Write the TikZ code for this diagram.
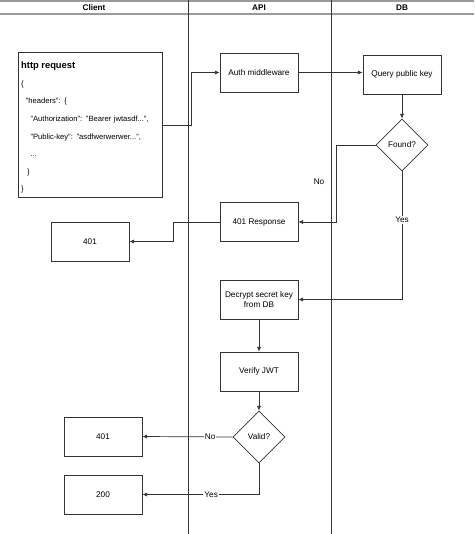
\documentclass[tikz,border=0pt]{standalone}
\usepackage{fontspec}
\setmainfont{Liberation Sans}
\usetikzlibrary{arrows.meta, shapes.geometric}

\begin{document}
\begin{tikzpicture}[x=0.03cm, y=-0.03cm,
    box/.style={draw=lineColour, line width=0.6pt, minimum width=2.34cm, minimum height=1.17cm, align=center, font=\fontsize{7}{8.5}\selectfont},
    reqbox/.style={draw=lineColour, line width=0.6pt, minimum width=4.32cm, minimum height=4.35cm, text width=4.15cm, inner sep=2pt, align=left, font=\fontsize{6.5}{15}\selectfont},
    decision/.style={diamond, draw=lineColour, line width=0.6pt, aspect=1, inner sep=0pt, minimum width=1.56cm, minimum height=1.56cm, font=\fontsize{7}{8.5}\selectfont},
    flow/.style={draw=lineColour, line width=0.6pt, -{Latex[length=4pt,width=3.5pt]}},
    edgelabel/.style={fill=white, inner sep=1pt, font=\fontsize{7}{8.5}\selectfont},
    header/.style={font=\bfseries\fontsize{7}{8.5}\selectfont}]
    % Define colours
    \definecolor{lineColour}{HTML}{333333}
    \definecolor{headerColour}{HTML}{9A9A9A}

    % Fix the page size
    \useasboundingbox (0,0) rectangle (474,534);

    % Draw swimlanes
    \draw[headerColour, line width=1.6pt] (0,1) -- (474,1);
    \draw[headerColour, line width=1.6pt] (0,14) -- (474,14);
    \draw[lineColour, line width=0.6pt] (188,0) -- (188,534);
    \draw[lineColour, line width=0.6pt] (331,0) -- (331,534);

    % Lane titles
    \node[header] (clientLane) at (94,8) {Client};
    \node[header] (apiLane) at (259,8) {API};
    \node[header] (dbLane) at (402,8) {DB};

    % Draw the request
    \node[reqbox, anchor=north west] (req) at (18,52) {%
        \rule{0pt}{10.5pt}{\bfseries\fontsize{8}{10}\selectfont http request}\\
        \{\\
        \hspace*{4pt}"headers": \{\\
        \hspace*{8pt}"Authorization": "Bearer jwtasdf...",\\
        \hspace*{8pt}"Public-key": "asdfwerwerwer...",\\
        \hspace*{8pt}...\\
        \hspace*{5pt}\}\\
        \}};

    % Draw the steps
    \node[box] (auth) at (259,72.5) {Auth middleware};
    \node[box] (query) at (402,74.5) {Query public key};
    \node[decision] (found) at (402,145) {Found?};
    \node[box] (resp) at (259,222) {401 Response};
    \node[box] (err1) at (90,241.5) {401};
    \node[box] (decrypt) at (259,299.5) {Decrypt secret key\\from DB};
    \node[box] (verify) at (259,371.5) {Verify JWT};
    \node[decision] (valid) at (259,437) {Valid?};
    \node[box] (err2) at (103,436.5) {401};
    \node[box] (ok) at (103,494.5) {200};

    % Draw the connectors
    \draw[flow] (req.east) -- ++(29,0) |- (auth.west);
    \draw[flow] (auth.east) -- (auth.east -| query.west);
    \draw[flow] (query.south) -- (found.north);
    \draw[flow] (found.west) -- ++(-39,0) |- (resp.east);
    \node[edgelabel] (noFound) at (319,182) {No};
    \draw[flow] (resp.west) -- ++(-46,0) |- (err1.east);
    \draw[flow] (found.south) |- (decrypt.east) node[edgelabel, pos=0.19] (yesFound) {Yes};
    \draw[flow] (decrypt.south) -- (verify.north);
    \draw[flow] (verify.south) -- (valid.north);
    \draw[flow] (valid.west) -- (err2.east) node[edgelabel, pos=0.25] (noValid) {No};
    \draw[flow] (valid.south) |- (ok.east) node[edgelabel, pos=0.705] (yesValid) {Yes};

\end{tikzpicture}
\end{document}
